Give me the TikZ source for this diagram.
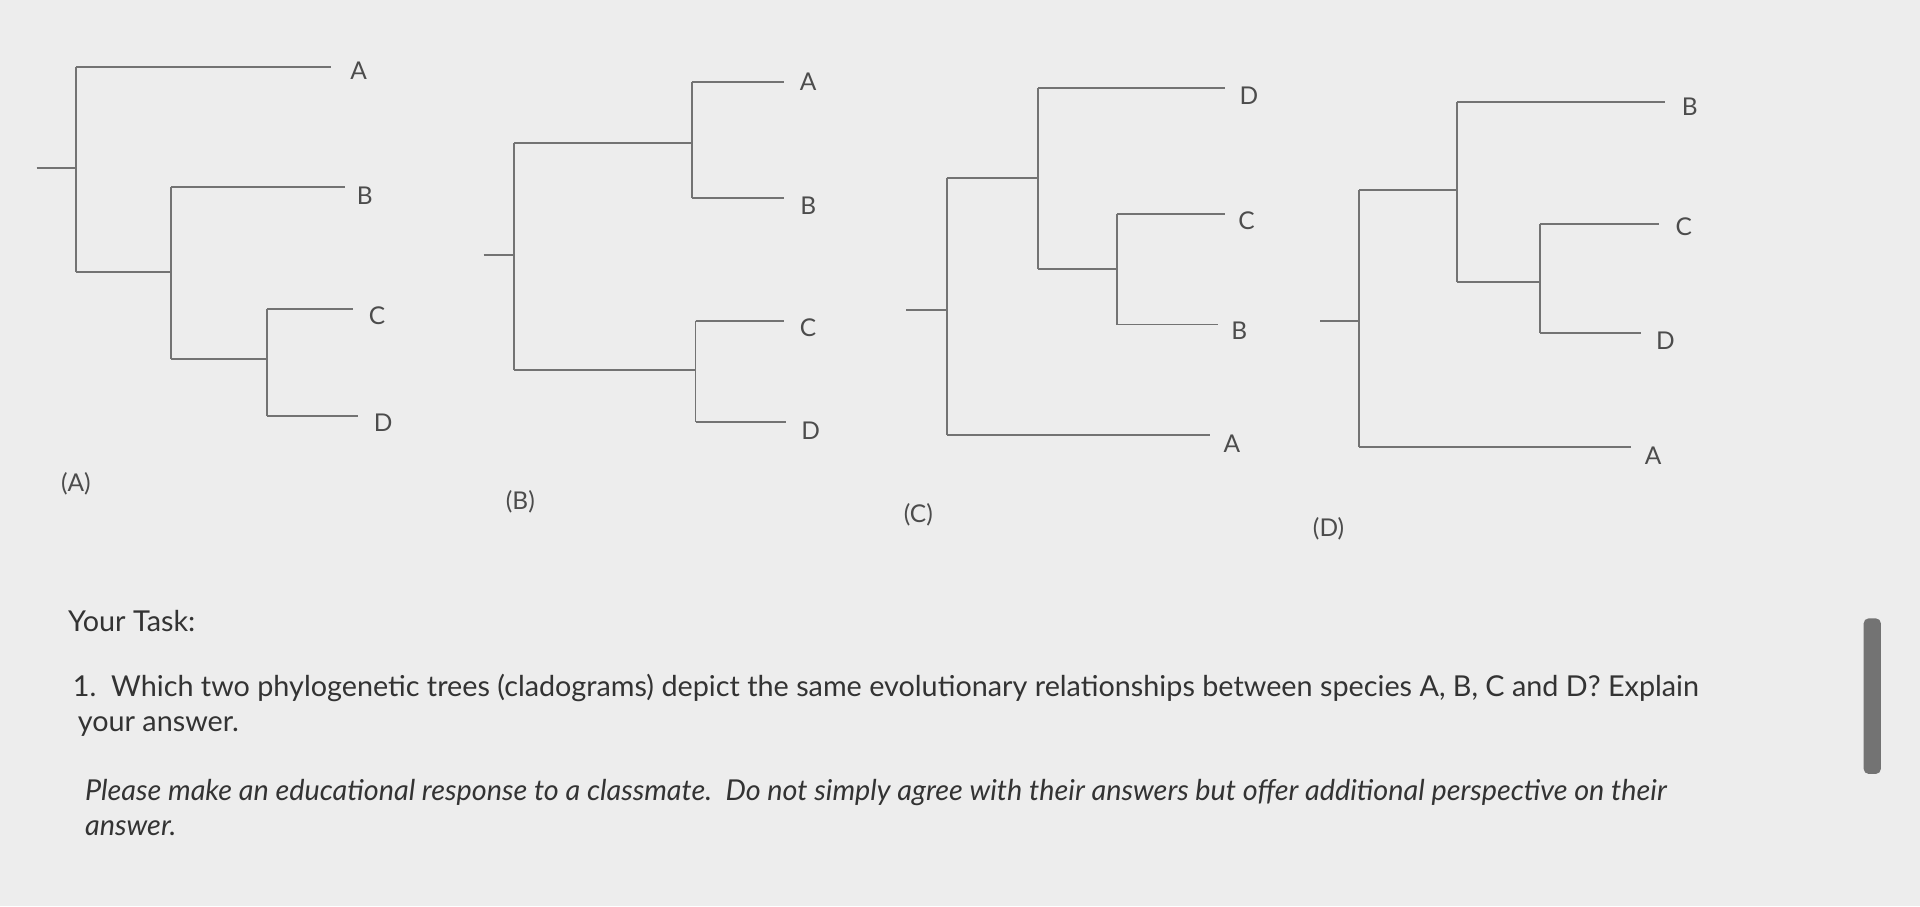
\documentclass[tikz,border=0pt]{standalone}
\usepackage{fontspec}
\setmainfont{Lato}
\begin{document}
\begin{tikzpicture}[x=1pt,y=-1pt,
  br/.style={draw=black!55,line width=1.6pt},
  lab/.style={font=\fontsize{20}{22}\selectfont,text=black!70,anchor=center},
  body/.style={font=\fontsize{23.5}{27}\selectfont,text=black!80,anchor=west}]
\fill[black!7] (0,0) rectangle (1568,740);
\useasboundingbox (0,0) rectangle (1568,740);
% Tree A
\coordinate (a0) at (30,137); \coordinate (ar) at (62,137);
\node[lab] (aA) at (293,58) {A}; \node[lab] (aB) at (298,160) {B};
\node[lab] (aC) at (308,258) {C}; \node[lab] (aD) at (313,345) {D};
\draw[br] (a0) -- (ar) (62,55) -- (62,222) (62,55) -- (270,55)
  (62,222) -- (140,222) (140,153) -- (140,293) (140,153) -- (282,153)
  (140,293) -- (218,293) (218,252) -- (218,340) (218,252) -- (288,252) (218,340) -- (292,340);
% Tree B
\node[lab] (bA) at (660,67) {A}; \node[lab] (bB) at (660,168) {B};
\node[lab] (bC) at (660,268) {C}; \node[lab] (bD) at (662,352) {D};
\draw[br] (395,208) -- (420,208) (420,117) -- (420,302) (420,117) -- (565,117)
  (565,67) -- (565,162) (565,67) -- (640,67) (565,162) -- (640,162)
  (420,302) -- (568,302) (568,262) -- (568,345) (568,262) -- (640,262) (568,345) -- (642,345);
% Tree C
\node[lab] (cD) at (1020,78) {D}; \node[lab] (cC) at (1018,180) {C};
\node[lab] (cB) at (1012,270) {B}; \node[lab] (cA) at (1006,362) {A};
\draw[br] (740,253) -- (773,253) (773,145) -- (773,355) (773,355) -- (988,355)
  (773,145) -- (848,145) (848,72) -- (848,220) (848,72) -- (1000,72)
  (848,220) -- (912,220) (912,175) -- (912,265) (912,175) -- (1000,175) (912,265) -- (995,265);
% Tree D
\node[lab] (dB) at (1380,87) {B}; \node[lab] (dC) at (1375,185) {C};
\node[lab] (dD) at (1360,278) {D}; \node[lab] (dA) at (1350,372) {A};
\draw[br] (1078,262) -- (1110,262) (1110,155) -- (1110,365) (1110,365) -- (1332,365)
  (1110,155) -- (1190,155) (1190,83) -- (1190,230) (1190,83) -- (1360,83)
  (1190,230) -- (1258,230) (1258,183) -- (1258,272) (1258,183) -- (1355,183) (1258,272) -- (1340,272);
% captions
\node[lab] (capA) at (62,395) {(A)};
\node[lab] (capB) at (425,410) {(B)};
\node[lab] (capC) at (750,420) {(C)};
\node[lab] (capD) at (1085,432) {(D)};
% text
\node[body] (t0) at (52,507) {Your Task:};
\node[body] (t1) at (56,562) {1.\ \ Which two phylogenetic trees (cladograms) depict the same evolutionary relationships between species A, B, C and D? Explain};
\node[body] (t2) at (60,593) {your answer.};
\node[body,font=\fontsize{23.5}{27}\selectfont\itshape] (t3) at (66,647) {Please make an educational response to a classmate.\ \ Do not simply agree with their answers but offer additional perspective on their};
\node[body,font=\fontsize{23.5}{27}\selectfont\itshape] (t4) at (66,676) {answer.};
\fill[black!55,rounded corners=4pt] (1522,505) rectangle (1536,632);
\end{tikzpicture}
\end{document}
